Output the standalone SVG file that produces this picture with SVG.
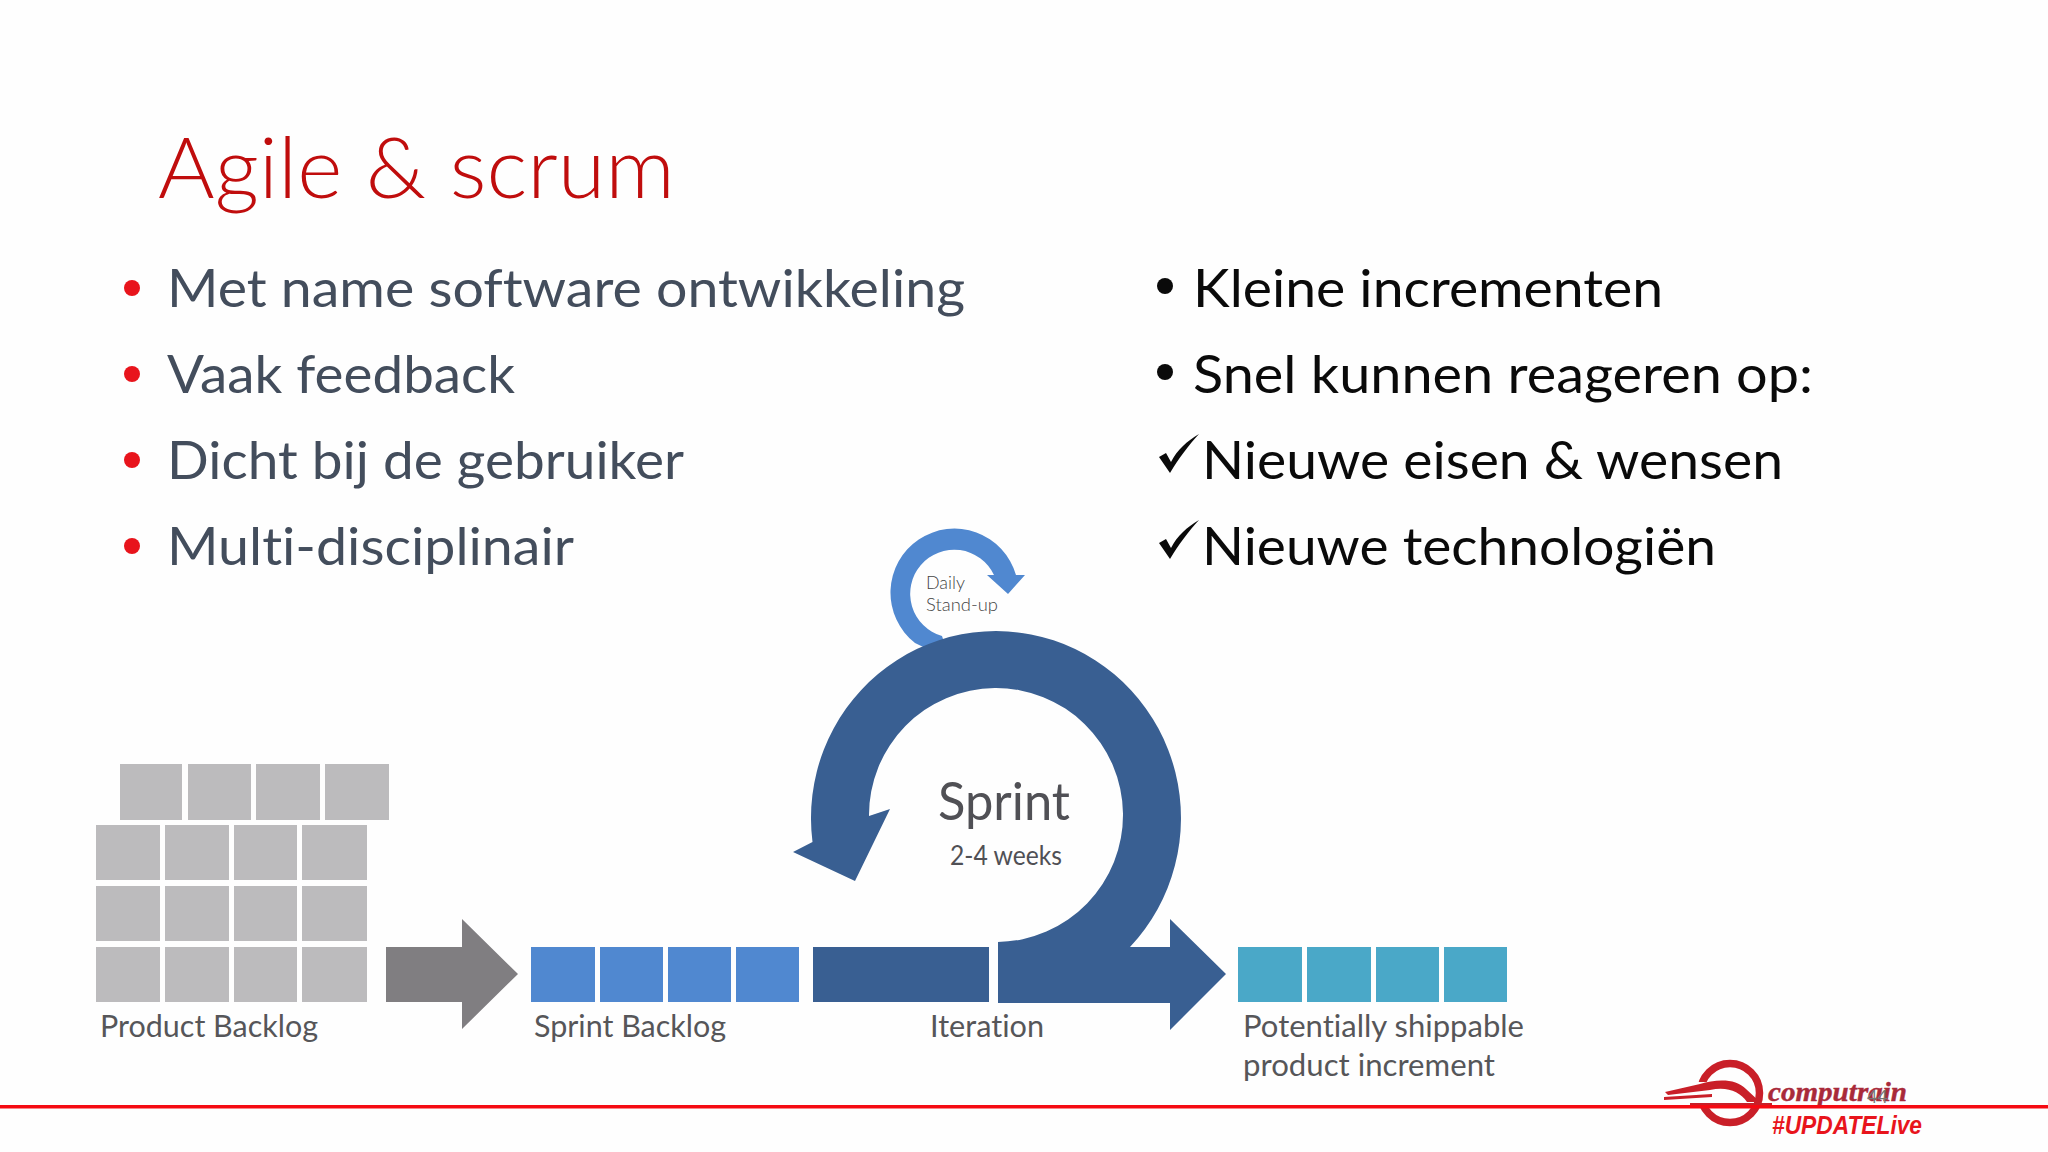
<svg xmlns="http://www.w3.org/2000/svg" width="2048" height="1152" viewBox="0 0 2048 1152">
<defs>
<style>
text{font-family:"Lato","Open Sans","Liberation Sans",sans-serif;font-variant-ligatures:none}
.t{font-size:52px;fill:#434d5c}
.k{font-size:52px;fill:#0a0a0a}
.d{font-size:30px;fill:#565659}
.g{fill:#bcbbbd}
.b{fill:#5088d0}
.c{fill:#4aa8c8}
.n{fill:#395f92}
.r{fill:#e8141c}
</style>
<path id="chk" d="M1159 457 L1166 453 L1171 462 C1177 450 1187 441 1199 434 C1188 446 1179 458 1170 473 Z" fill="#0a0a0a"/>
</defs>
<rect width="2048" height="1152" fill="#fefefe"/>
<g id="title"><text x="158" y="198" font-size="84" font-weight="300" fill="#c00d0d" textLength="517" lengthAdjust="spacingAndGlyphs">Agile &amp; scrum</text></g>
<g id="left-list">
<circle class="r" cx="132" cy="288" r="8"/><circle class="r" cx="132" cy="374" r="8"/><circle class="r" cx="132" cy="460" r="8"/><circle class="r" cx="132" cy="546" r="8"/>
<text class="t" x="167" y="307" textLength="798" lengthAdjust="spacingAndGlyphs">Met name software ontwikkeling</text>
<text class="t" x="167" y="393" textLength="348" lengthAdjust="spacingAndGlyphs">Vaak feedback</text>
<text class="t" x="167" y="479" textLength="517" lengthAdjust="spacingAndGlyphs">Dicht bij de gebruiker</text>
<text class="t" x="167" y="565" textLength="407" lengthAdjust="spacingAndGlyphs">Multi-disciplinair</text>
</g>
<g id="right-list">
<circle cx="1165" cy="286" r="8" fill="#0a0a0a"/><circle cx="1165" cy="372" r="8" fill="#0a0a0a"/>
<use href="#chk"/><use href="#chk" y="86"/>
<text class="k" x="1193" y="307" textLength="470" lengthAdjust="spacingAndGlyphs">Kleine incrementen</text>
<text class="k" x="1193" y="393" textLength="620" lengthAdjust="spacingAndGlyphs">Snel kunnen reageren op:</text>
<text class="k" x="1202" y="479" textLength="581" lengthAdjust="spacingAndGlyphs">Nieuwe eisen &amp; wensen</text>
<text class="k" x="1202" y="565" textLength="514" lengthAdjust="spacingAndGlyphs">Nieuwe technologiën</text>
</g>
<g id="product-backlog">
<rect class="g" x="120" y="764" width="62" height="56"/><rect class="g" x="188" y="764" width="63" height="56"/><rect class="g" x="256" y="764" width="64" height="56"/><rect class="g" x="325" y="764" width="64" height="56"/>
<rect class="g" x="96" y="825" width="64" height="55"/><rect class="g" x="165" y="825" width="64" height="55"/><rect class="g" x="234" y="825" width="63" height="55"/><rect class="g" x="302" y="825" width="65" height="55"/>
<rect class="g" x="96" y="886" width="64" height="55"/><rect class="g" x="165" y="886" width="64" height="55"/><rect class="g" x="234" y="886" width="63" height="55"/><rect class="g" x="302" y="886" width="65" height="55"/>
<rect class="g" x="96" y="947" width="64" height="55"/><rect class="g" x="165" y="947" width="64" height="55"/><rect class="g" x="234" y="947" width="63" height="55"/><rect class="g" x="302" y="947" width="65" height="55"/>
<text class="d" x="100" y="1037" textLength="218" lengthAdjust="spacingAndGlyphs">Product Backlog</text>
</g>
<g id="sprint-backlog">
<rect class="b" x="531" y="947" width="64" height="55"/><rect class="b" x="600" y="947" width="63" height="55"/><rect class="b" x="668" y="947" width="63" height="55"/><rect class="b" x="736" y="947" width="63" height="55"/>
<text class="d" x="534" y="1037" textLength="192" lengthAdjust="spacingAndGlyphs">Sprint Backlog</text>
</g>
<g id="connectors">
<path id="backlog-arrow" d="M386 947H462V919L518 974L462 1029V1002H386Z" fill="#807e81"/>
<path id="standup-arrow" d="M915 643A64 64 0 1 1 1016 575H1025L1008 594L987 575H994A44 44 0 1 0 942 636L950 660Z" fill="#5088d0"/>
<path id="sprint-arrow" class="n" d="M998 1003H1170V1030L1226 974L1170 919V947H1130A185 187 0 1 0 812.500 842L793 852L855 881L890 809L869 816A127 127 0 1 1 998 942Z"/>
</g>
<g id="standup"><text x="926" y="589" font-size="18" font-weight="300" fill="#444" textLength="39" lengthAdjust="spacingAndGlyphs">Daily</text><text x="926" y="611" font-size="18" font-weight="300" fill="#444" textLength="72" lengthAdjust="spacingAndGlyphs">Stand-up</text></g>
<g id="sprint"><text x="938" y="820" font-size="52" fill="#505055" textLength="132" lengthAdjust="spacingAndGlyphs">Sprint</text><text x="950" y="865" font-size="26" fill="#505055" textLength="112" lengthAdjust="spacingAndGlyphs">2-4 weeks</text></g>
<g id="iteration"><rect class="n" x="813" y="947" width="176" height="55"/><text class="d" x="930" y="1037" textLength="114" lengthAdjust="spacingAndGlyphs">Iteration</text></g>
<g id="increment">
<rect class="c" x="1238" y="947" width="64" height="55"/><rect class="c" x="1307" y="947" width="64" height="55"/><rect class="c" x="1376" y="947" width="63" height="55"/><rect class="c" x="1444" y="947" width="63" height="55"/>
<text class="d" x="1243" y="1037" textLength="281" lengthAdjust="spacingAndGlyphs">Potentially shippable</text>
<text class="d" x="1243" y="1076" textLength="252" lengthAdjust="spacingAndGlyphs">product increment</text>
</g>
<g id="logo">
<circle cx="1730" cy="1093" r="29.500" fill="none" stroke="#c91f28" stroke-width="7.500"/>
<path d="M1696 1082H1752V1104H1696Z" fill="#fefefe"/>
<path d="M1665 1092L1700 1084C1716 1079 1736 1078 1746 1089L1760 1102H1747C1740 1091 1726 1086 1710 1090L1668 1095ZM1664 1097L1712 1094V1097L1664 1100ZM1690 1103H1772V1105H1690Z" fill="#c91f28"/>
<text x="1768" y="1101" font-size="27" font-weight="700" font-style="italic" fill="#a92a3a" stroke="#a92a3a" stroke-width="0.400" style="font-family:'Liberation Serif',serif" textLength="139" lengthAdjust="spacingAndGlyphs">computrain</text>
<text x="1772" y="1134" font-size="25" font-weight="700" font-style="italic" fill="#e8141c" style="font-family:'Liberation Sans',sans-serif" textLength="150" lengthAdjust="spacingAndGlyphs">#UPDATELive</text>
<text x="1867" y="1103" font-size="18" fill="#777">44</text>
</g>
<rect id="rule" x="0" y="1105" width="2048" height="3.500" fill="#f50a12"/>
</svg>
